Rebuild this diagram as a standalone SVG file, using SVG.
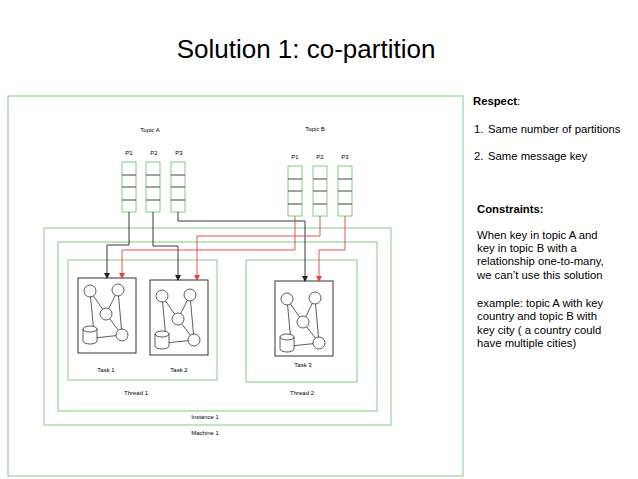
<svg xmlns="http://www.w3.org/2000/svg" xmlns:xlink="http://www.w3.org/1999/xlink" width="638" height="479" viewBox="0 0 638 479">
<style>
text{font-family:"Liberation Sans",Arial,sans-serif;fill:#000}
.g{fill:none;stroke:#7ccf7c;stroke-width:1}
.q{fill:#fff;stroke:#7ccf7c;stroke-width:1}
.qd{stroke:#444;stroke-width:1}
.s{font-size:6px;text-anchor:middle}
.t{fill:#fff;stroke:#333;stroke-width:1}
.k{fill:none;stroke:#222;stroke-width:0.9}
.r{fill:none;stroke:#e8423a;stroke-width:0.9}
.b{font-size:11.3px}
</style>
<defs>
<marker id="ak" markerWidth="6" markerHeight="6" refX="5" refY="3" orient="auto" markerUnits="userSpaceOnUse"><path d="M0,0L6,3L0,6z" fill="#222"/></marker>
<marker id="ar" markerWidth="6" markerHeight="6" refX="5" refY="3" orient="auto" markerUnits="userSpaceOnUse"><path d="M0,0L6,3L0,6z" fill="#e8423a"/></marker>
<g id="queue"><rect class="q" x="0" y="0" width="14" height="50"/><path class="qd" d="M0,13H14M0,25H14M0,38H14"/></g>
<g id="graph" fill="#fff" stroke="#333" stroke-width="0.8">
<path d="M12,13L16,56M40,12L28,36M12,13L28,36M28,36L44,57M40,12L44,57M16,60L44,57" fill="none"/>
<circle cx="12" cy="13" r="6"/><circle cx="40" cy="12" r="6"/><circle cx="28" cy="36" r="6"/><circle cx="44" cy="57" r="6"/>
<path d="M5,51v12a7,3 0 0 0 14,0v-12a7,3 0 0 0 -14,0a7,3 0 0 0 14,0"/>
</g>
</defs>
<text x="306" y="58" font-size="26" text-anchor="middle">Solution 1: co-partition</text>
<g id="outer"><rect class="g" x="8" y="96" width="455" height="380"/></g>
<g id="machine"><rect class="g" x="44" y="228" width="347" height="197"/><text class="s" x="205" y="435">Machine 1</text></g>
<g id="instance"><rect class="g" x="58" y="242" width="319" height="169"/><text class="s" x="205" y="419">Instance 1</text></g>
<g id="thread1"><rect class="g" x="68" y="260" width="149" height="120"/><text class="s" x="136" y="395">Thread 1</text></g>
<g id="thread2"><rect class="g" x="246" y="260" width="111" height="122"/><text class="s" x="302" y="395">Thread 2</text></g>
<g id="task1"><rect class="t" x="78" y="278" width="58" height="75"/><use xlink:href="#graph" x="78" y="278"/><text class="s" x="106" y="372">Task 1</text></g>
<g id="task2"><rect class="t" x="150" y="280" width="58" height="75"/><use xlink:href="#graph" x="150" y="283"/><text class="s" x="179" y="372">Task 2</text></g>
<g id="task3"><rect class="t" x="275" y="281" width="58" height="75"/><use xlink:href="#graph" x="275" y="286"/><text class="s" x="303" y="367">Task 3</text></g>
<g id="topicA"><text class="s" x="150" y="132">Topic A</text>
<text class="s" x="129" y="155">P1</text><text class="s" x="154" y="155">P2</text><text class="s" x="179" y="155">P3</text>
<use xlink:href="#queue" x="122" y="162"/><use xlink:href="#queue" x="146" y="162"/><use xlink:href="#queue" x="171" y="162"/></g>
<g id="topicB"><text class="s" x="315" y="131">Topic B</text>
<text class="s" x="295" y="159">P1</text><text class="s" x="320" y="159">P2</text><text class="s" x="345" y="159">P3</text>
<use xlink:href="#queue" x="288" y="166"/><use xlink:href="#queue" x="313" y="166"/><use xlink:href="#queue" x="338" y="166"/></g>
<g id="connectors">
<path class="k" d="M129,212V245H107V278" marker-end="url(#ak)"/>
<path class="k" d="M153,212V246H178V280" marker-end="url(#ak)"/>
<path class="k" d="M178,212V221H305V281" marker-end="url(#ak)"/>
<path class="r" d="M295,216V250H122V278" marker-end="url(#ar)"/>
<path class="r" d="M320,216V236H197V280" marker-end="url(#ar)"/>
<path class="r" d="M345,216V250H319V281" marker-end="url(#ar)"/>
</g>
<g id="notes">
<text class="b" x="473" y="105"><tspan font-weight="bold">Respect</tspan>:</text>
<text class="b" x="474" y="133">1.</text><text class="b" x="488" y="133">Same number of partitions</text>
<text class="b" x="474" y="160">2.</text><text class="b" x="488" y="160">Same message key</text>
<text class="b" x="477" y="213" font-weight="bold">Constraints:</text>
<text class="b" x="477" y="239">When key in topic A and</text>
<text class="b" x="477" y="252">key in topic B with a</text>
<text class="b" x="477" y="265">relationship one-to-many,</text>
<text class="b" x="477" y="279">we can’t use this solution</text>
<text class="b" x="477" y="307">example: topic A with key</text>
<text class="b" x="477" y="320">country and topic B with</text>
<text class="b" x="477" y="334">key city ( a country could</text>
<text class="b" x="477" y="347">have multiple cities)</text>
</g>
</svg>
